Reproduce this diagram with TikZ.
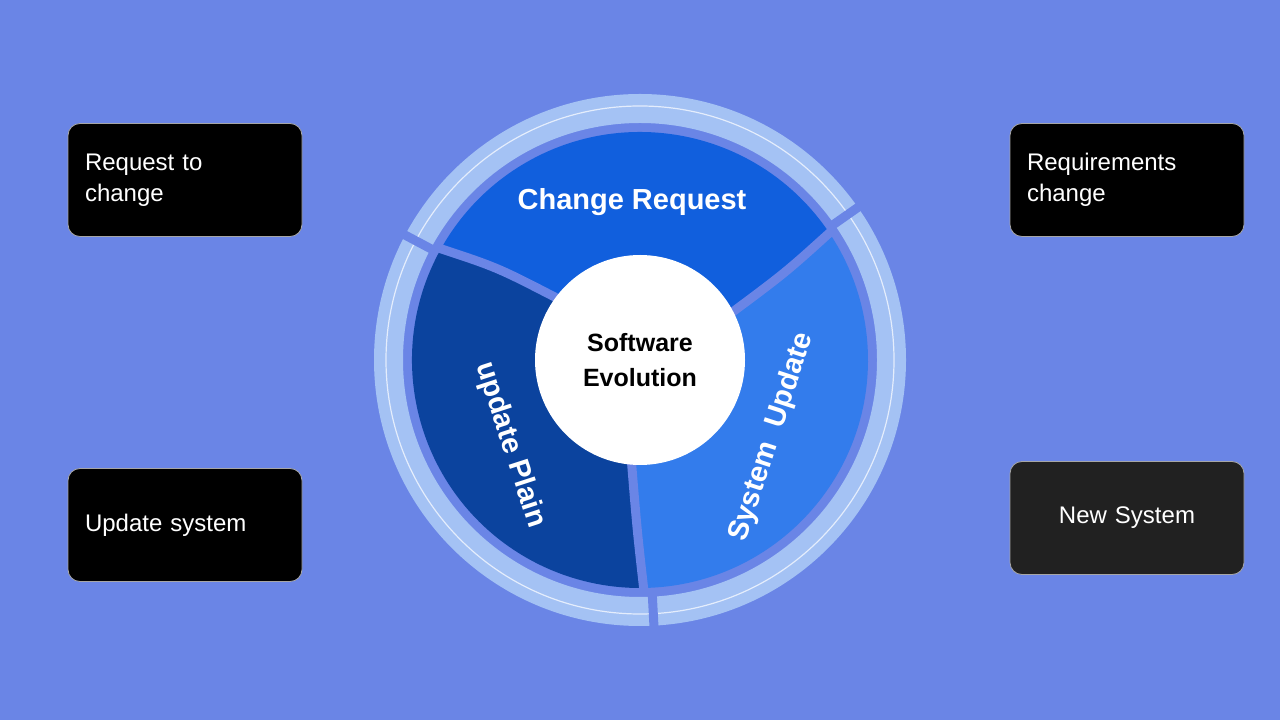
\documentclass[tikz,border=0pt]{standalone}
\usetikzlibrary{calc}
\usepackage{fontspec}
\setmainfont{Liberation Sans}
\begin{document}
\begin{tikzpicture}[x=1pt,y=1pt,
  box/.style={draw=gray!70,line width=0.8pt,rounded corners=12pt,minimum width=234pt,minimum height=113pt,text=white,font=\fontsize{24}{31}\selectfont,align=left,text width=200pt},
  seglab/.style={text=white,font=\bfseries\fontsize{29}{34}\selectfont},
  gap/.style={draw=bgc,line width=9pt}]
\definecolor{bgc}{HTML}{6A85E6}
\definecolor{ringc}{HTML}{A4C2F4}
\definecolor{topc}{HTML}{115FDD}
\definecolor{leftc}{HTML}{0B439E}
\definecolor{rightc}{HTML}{337CEC}
\fill[bgc] (0,0) rectangle (1280,720);
\useasboundingbox (0,0) rectangle (1280,720);
\coordinate (C) at (640,360);
% ring
\fill[ringc,even odd rule] (C) circle (266) (C) circle (237);
\draw[white!70!ringc,line width=1.2pt] (C) circle (254);
\draw[gap] ($(C)+(152:230)$) -- ($(C)+(152:272)$);
\draw[gap] ($(C)+(35:230)$) -- ($(C)+(35:272)$);
\draw[gap] ($(C)+(-87:230)$) -- ($(C)+(-87:272)$);
% sectors
\fill[topc] ($(C)+(27:100)$) .. controls ($(C)+(31:170)$) .. ($(C)+(34:228)$) arc (34:151:228) .. controls ($(C)+(147:170)$) .. ($(C)+(143:100)$) -- (C) -- cycle;
\fill[leftc] ($(C)+(143:100)$) .. controls ($(C)+(147:170)$) .. ($(C)+(151:228)$) arc (151:271:228) .. controls ($(C)+(-91:170)$) .. ($(C)+(-95:100)$) -- (C) -- cycle;
\fill[rightc] ($(C)+(-95:100)$) .. controls ($(C)+(-91:170)$) .. ($(C)+(-89:228)$) arc (-89:34:228) .. controls ($(C)+(31:170)$) .. ($(C)+(27:100)$) -- (C) -- cycle;
\draw[gap] ($(C)+(143:100)$) .. controls ($(C)+(147:170)$) .. ($(C)+(151:232)$);
\draw[gap] ($(C)+(27:100)$) .. controls ($(C)+(31:170)$) .. ($(C)+(34:232)$);
\draw[gap] ($(C)+(-95:100)$) .. controls ($(C)+(-91:170)$) .. ($(C)+(-89:232)$);
\node[circle,fill=white,minimum size=210pt,inner sep=0pt,align=center,font=\bfseries\fontsize{25}{35}\selectfont] (sw) at (C) {Software\\Evolution};
\node[seglab] (cr) at (632,518) {Change Request};
\node[seglab,rotate=-72] (up) at (510,275) {update Plain};
\node[seglab,rotate=72] (su) at (772,283) {System\ \ Update};
% boxes
\node[box,fill=black] (b1) at (185,540) {Request to\\change};
\node[box,fill=black] (b3) at (185,195) {Update system};
\node[box,fill=black] (b4) at (1127,540) {Requirements\\change};
\node[box,fill=black!87,align=center] (b5) at (1127,202) {New System};
\end{tikzpicture}
\end{document}
